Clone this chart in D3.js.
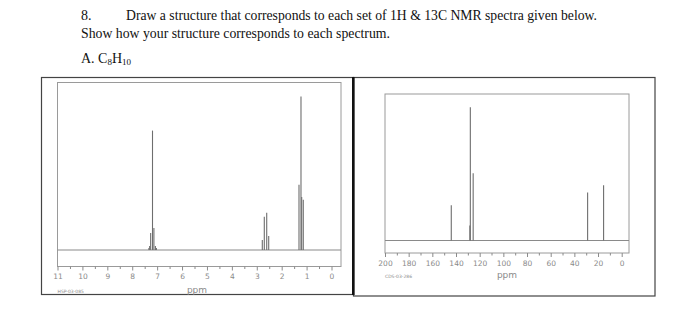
<!DOCTYPE html>
<html>
<head>
<meta charset="utf-8">
<script src="https://cdn.jsdelivr.net/npm/d3@7"></script>
<style>
  html, body { margin: 0; padding: 0; background: #fff; }
  svg { display: block; }
</style>
</head>
<body>
<svg id="chart" width="700" height="323"></svg>
<script>
// ---------- data ----------
// 1H NMR spectrum (ppm, relative intensity)
const hPeakPpm = [7.33, 7.30, 7.26, 7.186, 7.13, 7.07, 7.03,
                  2.778, 2.698, 2.601, 2.521,
                  1.305, 1.225, 1.197, 1.133];
const hPeakInt = [1.3, 2.6, 11, 77.8, 14.4, 2.6, 1.3,
                  6.5, 21.6, 24.2, 9.2,
                  42.5, 100, 34.6, 32.7];
const hTickMajor = [11, 10, 9, 8, 7, 6, 5, 4, 3, 2, 1, 0];
const hTickMinor = [10.5, 9.5, 8.5, 7.5, 6.5, 5.5, 4.5, 3.5, 2.5, 1.5, 0.5];
const hCode = "HSP-03-085";

// 13C NMR spectrum (ppm, relative intensity)
const cPeakPpm = [144.0, 128.3, 127.9, 125.5, 28.8, 15.3];
const cPeakInt = [26.5, 11.3, 100, 50.4, 36.1, 41.4];
const cTickMajor = [200, 180, 160, 140, 120, 100, 80, 60, 40, 20, 0];
const cTickMinor = [190, 170, 150, 130, 110, 90, 70, 50, 30, 10];
const cCode = "CDS-03-286";

const axisTitle = "ppm";

// ---------- drawing ----------
const svg = d3.select("#chart");
const serif = "'Liberation Serif', 'Times New Roman', serif";

// header text
const head = svg.append("g").attr("font-family", serif).attr("fill", "#111");
head.append("text").attr("x", 81).attr("y", 20).attr("font-size", 14).text("8.");
head.append("text").attr("x", 126).attr("y", 20).attr("font-size", 14)
  .attr("textLength", 471).attr("lengthAdjust", "spacingAndGlyphs")
  .text("Draw a structure that corresponds to each set of 1H & 13C NMR spectra given below.");
head.append("text").attr("x", 81).attr("y", 38).attr("font-size", 14)
  .attr("textLength", 309).attr("lengthAdjust", "spacingAndGlyphs")
  .text("Show how your structure corresponds to each spectrum.");
const a = head.append("text").attr("x", 81).attr("y", 63).attr("font-size", 14);
a.append("tspan").text("A. C");
a.append("tspan").attr("font-size", 9).attr("dy", 2).text("8");
a.append("tspan").attr("font-size", 14).attr("dy", -2).text("H");
a.append("tspan").attr("font-size", 9).attr("dy", 2).text("10");

// outer panel boxes
svg.append("rect").attr("x", 41.5).attr("y", 77.5).attr("width", 312).attr("height", 217)
  .attr("fill", "none").attr("stroke", "#444").attr("stroke-width", 1.2);
svg.append("rect").attr("x", 353.5).attr("y", 77.5).attr("width", 301.5).attr("height", 218.5)
  .attr("fill", "none").attr("stroke", "#444").attr("stroke-width", 1.2);
svg.append("line").attr("x1", 353.3).attr("x2", 353.3).attr("y1", 77).attr("y2", 295)
  .attr("stroke", "#111").attr("stroke-width", 2.6);

function spectrum(cfg) {
  const g = svg.append("g");
  const x = d3.scaleLinear().domain(cfg.xDomain).range(cfg.xRange);
  const y = d3.scaleLinear().domain([0, 100]).range(cfg.yRange);
  const fr = cfg.frame;

  // frame
  g.append("rect").attr("x", fr.x0).attr("y", fr.y0)
    .attr("width", fr.x1 - fr.x0).attr("height", fr.y1 - fr.y0)
    .attr("fill", "none").attr("stroke", "#9a9a9a").attr("stroke-width", 1);

  // baseline
  g.append("line").attr("x1", fr.x0).attr("x2", fr.x1)
    .attr("y1", y(0)).attr("y2", y(0))
    .attr("stroke", "#8a8a8a").attr("stroke-width", 1.1);

  // peaks (sticks)
  g.append("g").selectAll("line").data(cfg.ppm).join("line")
    .attr("x1", d => x(d)).attr("x2", d => x(d))
    .attr("y1", y(0)).attr("y2", (d, i) => y(cfg.intensity[i]))
    .attr("stroke", "#6e6e6e").attr("stroke-width", 1.1);

  // axes
  const axMaj = d3.axisBottom(x).tickValues(cfg.major).tickSize(4)
    .tickPadding(cfg.pad).tickFormat(d3.format("d"));
  const ga = g.append("g").attr("transform", `translate(0,${fr.y1})`).call(axMaj);
  ga.select(".domain").remove();
  ga.selectAll(".tick line").attr("stroke", "#8a8a8a");
  ga.selectAll(".tick text").attr("fill", "#8a8a8a")
    .attr("font-family", "'DejaVu Sans', sans-serif").attr("font-size", 7.5);

  const axMin = d3.axisBottom(x).tickValues(cfg.minor).tickSize(2.5).tickFormat("");
  const gm = g.append("g").attr("transform", `translate(0,${fr.y1})`).call(axMin);
  gm.select(".domain").remove();
  gm.selectAll(".tick line").attr("stroke", "#8a8a8a");

  // axis title
  g.append("text").attr("x", cfg.titleX).attr("y", cfg.titleY)
    .attr("text-anchor", "middle").attr("fill", "#8a8a8a")
    .attr("font-family", "'DejaVu Sans', sans-serif").attr("font-size", 9)
    .text(axisTitle);

  // code label
  g.append("text").attr("x", fr.x0).attr("y", cfg.codeY)
    .attr("fill", "#8a8a8a")
    .attr("font-family", "'DejaVu Sans', sans-serif").attr("font-size", 4.5)
    .text(cfg.code);
}

spectrum({
  xDomain: [11, 0], xRange: [57.5, 331.5],
  yRange: [250, 96.5],
  frame: { x0: 57.5, y0: 82.5, x1: 341, y1: 266.5 },
  ppm: hPeakPpm, intensity: hPeakInt,
  major: hTickMajor, minor: hTickMinor, pad: 3,
  titleX: 197, titleY: 293, codeY: 292.5, code: hCode
});

spectrum({
  xDomain: [200, 0], xRange: [385, 621.7],
  yRange: [240.5, 107.3],
  frame: { x0: 385, y0: 94, x1: 629, y1: 253 },
  ppm: cPeakPpm, intensity: cPeakInt,
  major: cTickMajor, minor: cTickMinor, pad: 4,
  titleX: 507, titleY: 278, codeY: 277.5, code: cCode
});
</script>
</body>
</html>
